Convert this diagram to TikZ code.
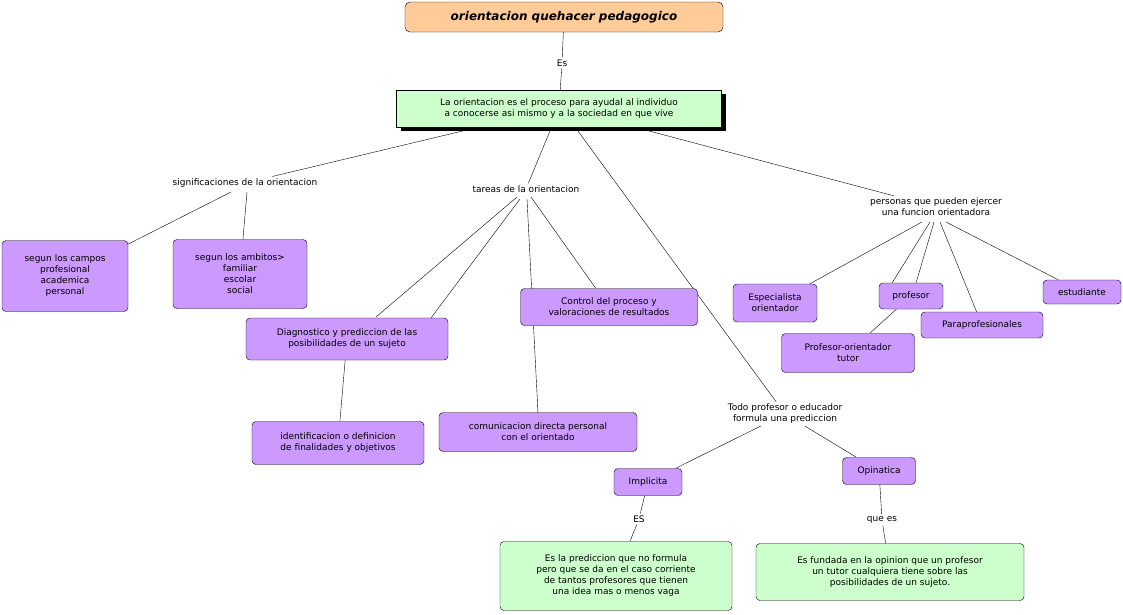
\documentclass[tikz,border=0pt]{standalone}
\usepackage{fontspec}
\setmainfont{DejaVu Sans}
\usetikzlibrary{backgrounds}
\definecolor{peach}{HTML}{FFCC99}
\definecolor{lgreen}{HTML}{CCFFCC}
\definecolor{lilac}{HTML}{CC99FF}
\begin{document}
\begin{tikzpicture}[x=1pt,y=-1pt,font=\fontsize{9}{11}\selectfont,
  box/.style={draw,rounded corners=4pt,fill=lilac,align=center,inner sep=3pt},
  gbox/.style={draw,rounded corners=4pt,fill=lgreen,align=center,inner sep=3pt},
  lbl/.style={align=center,inner sep=2pt},
  every path/.style={}]
\useasboundingbox (0,0) rectangle (1123,614);
\node[draw,rounded corners=5pt,fill=peach,minimum width=318pt,minimum height=30pt,font=\fontsize{12}{14}\selectfont\bfseries\itshape] (t) at (564,17) {orientacion quehacer pedagogico};
\node[lbl] (es) at (562,63) {Es};
\fill (401,94) rectangle (726,131);
\node[draw,fill=lgreen,align=center,minimum width=325pt,minimum height=37pt,inner sep=1pt] (m) at (559,109) {La orientacion es el proceso para ayudal al individuo\\a conocerse asi mismo y a la sociedad en que vive};
\node[lbl] (sig) at (245,183) {significaciones de la orientacion};
\node[lbl] (tar) at (526,189) {tareas de la orientacion};
\node[lbl] (per) at (936,207) {personas que pueden ejercer\\una funcion orientadora};
\node[box,minimum width=126pt,minimum height=71pt] (sc) at (65,276) {segun los campos\\profesional\\academica\\personal};
\node[box,minimum width=134pt,minimum height=69pt] (sa) at (240,274) {segun los ambitos>\\familiar\\escolar\\social};
\node[box,minimum width=202pt,minimum height=42pt] (dia) at (347,339) {Diagnostico y prediccion de las\\posibilidades de un sujeto};
\node[box,minimum width=177pt,minimum height=37pt] (con) at (609,307) {Control del proceso y\\valoraciones de resultados};
\node[box,minimum width=172pt,minimum height=43pt] (ide) at (338,443) {identificacion o definicion\\de finalidades y objetivos};
\node[box,minimum width=198pt,minimum height=39pt] (com) at (538,432) {comunicacion directa personal\\con el orientado};
\node[lbl] (tod) at (785,414) {Todo profesor o educador\\formula una prediccion};
\node[box,minimum width=68pt,minimum height=27pt] (imp) at (648,482) {Implicita};
\node[box,minimum width=73pt,minimum height=27pt] (opi) at (879,471) {Opinatica};
\node[lbl] (ES) at (639,519) {ES};
\node[lbl] (qes) at (882,520) {que es};
\node[gbox,minimum width=232pt,minimum height=69pt] (pre) at (616,576) {Es la prediccion que no formula\\pero que se da en el caso corriente\\de tantos profesores que tienen\\una idea mas o menos vaga};
\node[gbox,minimum width=268pt,minimum height=57pt] (fun) at (890,572) {Es fundada en la opinion que un profesor\\un tutor cualquiera tiene sobre las\\posibilidades de un sujeto.};
\node[box,minimum width=84pt,minimum height=38pt] (esp) at (775,303) {Especialista\\orientador};
\node[box,minimum width=64pt,minimum height=26pt] (pro) at (911,296) {profesor};
\node[box,minimum width=133pt,minimum height=39pt] (po) at (848,353) {Profesor-orientador\\tutor};
\node[box,minimum width=122pt,minimum height=26pt] (par) at (982,325) {Paraprofesionales};
\node[box,minimum width=78pt,minimum height=24pt] (est) at (1082,292) {estudiante};
\begin{scope}[on background layer]
\draw (t) -- (es) -- (m);
\draw (m.south west)++(80,0) -- (sig);
\draw (m) -- (tar);
\draw (m.south east)++(-85,0) -- (per);
\draw (575,127) -- (tod);
\draw (231,192) -- (sc); \draw (247,192) -- (sa);
\draw (517,197) -- (376,317); \draw (520,199) -- (431,318);
\draw (527,199) -- (538,413);
\draw (531,197) -- (con);
\draw (dia) -- (ide);
\draw (tod) -- (imp); \draw (tod) -- (opi);
\draw (imp) -- (ES) -- (pre);
\draw (opi) -- (qes) -- (fun);
\draw (922,222) -- (esp); \draw (930,222) -- (892,283); \draw (934,222) -- (916,283);
\draw (940,222) -- (par); \draw (946,222) -- (est);
\draw (pro) -- (po);
\end{scope}
\end{tikzpicture}
\end{document}
